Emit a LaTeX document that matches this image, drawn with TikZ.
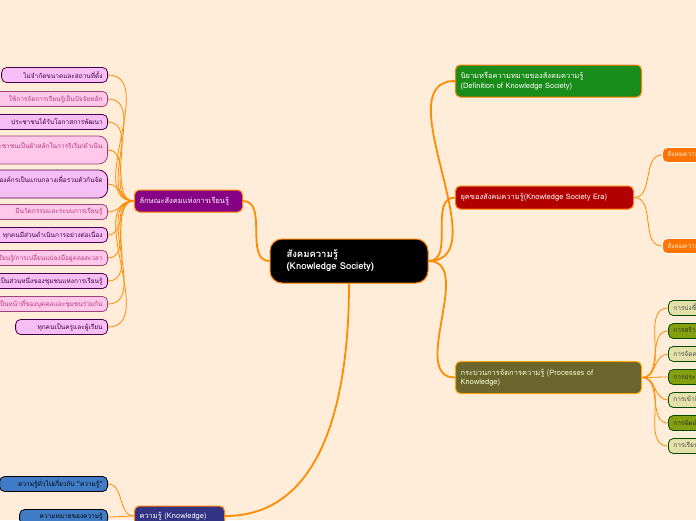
\documentclass[tikz,border=0pt]{standalone}
\usepackage{fontspec}
\setmainfont[Script=Thai]{Loma}
\begin{document}
\begin{tikzpicture}[x=1pt,y=-1pt,
 base/.style={rounded corners=5pt, font=\fontsize{6.5}{8}\selectfont, inner xsep=5pt, inner ysep=2pt},
 lp/.style={base, fill=violet!30!magenta!25, draw=violet!60!black, line width=0.8pt, text=violet!50!black, anchor=east, align=right, text width=#1, minimum height=15pt},
 lk/.style={base, fill=pink!70!magenta!45, draw=magenta!60!black, line width=0.8pt, text=magenta!70!black, anchor=east, align=right, text width=#1, minimum height=15pt},
 gl/.style={base, fill=olive!25!white, draw=black!70!green, line width=0.8pt, text=black!70, anchor=west, align=left, text width=60pt, minimum height=15pt},
 gd/.style={gl, fill=olive!70!green!90!yellow, text=black!85},
 og/.style={base, fill=orange!90!red, draw=white, line width=0.8pt, text=white!85!orange, anchor=west, align=left, text width=60pt, minimum height=15pt},
 main/.style={base, font=\fontsize{7.5}{9.5}\selectfont, draw=orange, line width=1pt, text=white, anchor=west, align=left},
 con/.style={draw=orange!90!yellow, line width=0.8pt},
 thick/.style={draw=orange!90!yellow, line width=1.8pt}]
\fill[orange!15!white] (0,0) rectangle (696,520);
\clip (0,0) rectangle (696,520);
\useasboundingbox (0,0) rectangle (696,520);

% central
\node[base, rounded corners=12pt, fill=black, draw=orange, line width=1pt, text=white, font=\bfseries\fontsize{9.5}{12}\selectfont, minimum width=158pt, minimum height=44pt, align=left, text width=125pt] (c) at (349,261) {สังคมความรู้\\(Knowledge Society)};

% right branches
\node[main, fill=green!50!black!90, text width=176pt, minimum height=32pt] (def) at (455,81) {นิยามหรือความหมายของสังคมความรู้\\(Definition of Knowledge Society)};
\node[main, fill=red!70!black, text width=168pt, minimum height=23pt] (era) at (455,197.5) {ยุคของสังคมความรู้(Knowledge Society Era)};
\node[main, fill=olive!60!black!95, text=white!85!yellow, text width=176pt, minimum height=32pt, draw=orange!70!yellow] (proc) at (455,377.5) {กระบวนการจัดการความรู้ (Processes of\\Knowledge)};
\node[main, fill=violet!70!magenta!80!black, text width=98pt, minimum height=22pt] (lc) at (134,201) {ลักษณะสังคมแห่งการเรียนรู้};
\node[main, fill=blue!40!black!80, text width=80pt, minimum height=20pt] (kn) at (134,516) {ความรู้ (Knowledge)};

\node[og] (e1) at (662,155) {สังคมความรู้ยุคแรก};
\node[og] (e2) at (662,246) {สังคมความรู้ยุคใหม่};

\node[gl] (p1) at (668,308) {การบ่งชี้ความรู้};
\node[gd] (p2) at (668,331) {การสร้างและแสวงหาความรู้};
\node[gl] (p3) at (668,354) {การจัดความรู้ให้เป็นระบบ};
\node[gd] (p4) at (668,377) {การประมวลและกลั่นกรองความรู้};
\node[gl] (p5) at (668,400) {การเข้าถึงความรู้};
\node[gd] (p6) at (668,423) {การจัดเก็บความรู้};
\node[gl] (p7) at (668,446) {การเรียนรู้};

% left items
\node[lp=96pt] (l1) at (108,75) {ไม่จำกัดขนาดและสถานที่ตั้ง};
\node[lk=150pt] (l2) at (108,99) {ใช้การจัดการเรียนรู้เป็นปัจจัยหลัก};
\node[lp=150pt] (l3) at (108,122) {ประชาชนได้รับโอกาสการพัฒนา};
\node[lk=150pt, minimum height=28pt, rounded corners=9pt] (l4) at (108,150) {ประชาชนเป็นตัวหลักในการริเริ่ม/ดำเนิน\\ \strut};
\node[lp=150pt, minimum height=28pt, rounded corners=9pt] (l5) at (108,184) {มีองค์กรเป็นแกนกลางเพื่อรวมตัวกันจัด\\ \strut};
\node[lk=150pt] (l6) at (108,212) {มีนวัตกรรมและระบบการเรียนรู้};
\node[lp=150pt] (l7) at (108,235) {ทุกคนมีส่วนดำเนินการอย่างต่อเนื่อง};
\node[lk=150pt] (l8) at (108,258) {การเรียนรู้/การเปลี่ยนแปลงมีอยู่ตลอดเวลา};
\node[lp=150pt] (l9) at (108,281) {ทุกคนเป็นส่วนหนึ่งของชุมชนแห่งการเรียนรู้};
\node[lk=150pt] (l10) at (108,304) {การเรียนรู้เป็นหน้าที่ของบุคคลและชุมชนร่วมกัน};
\node[lp=82pt] (l11) at (108,327) {ทุกคนเป็นครูและผู้เรียน};

\node[lp=98pt, fill=blue!55!cyan!70!black!75, draw=black, text=black] (k1) at (108,484) {ความรู้ทั่วไปเกี่ยวกับ "ความรู้"};
\node[lp=78pt, fill=blue!55!cyan!70!black!75, draw=black, text=black] (k2) at (108,517) {ความหมายของความรู้};

% connectors
\draw[thick] (c.east) to[out=0,in=180] (def.west);
\draw[thick] (c.east) to[out=0,in=180] (era.west);
\draw[thick] (c.east) to[out=0,in=180] (proc.west);
\draw[thick] (c.west) to[out=180,in=0] (lc.east);
\draw[thick] (c.south) to[out=-90,in=0] (kn.east);
\foreach \n in {e1,e2} \draw[con] (era.east) to[out=0,in=180] (\n.west);
\foreach \n in {p1,p2,p3,p4,p5,p6,p7} \draw[con] (proc.east) to[out=0,in=180] (\n.west);
\foreach \n in {l1,l2,l3,l4,l5,l6,l7,l8,l9,l10,l11} \draw[con] (lc.west) to[out=180,in=0] (\n.east);
\foreach \n in {k1,k2} \draw[con] (kn.west) to[out=180,in=0] (\n.east);
\end{tikzpicture}
\end{document}
